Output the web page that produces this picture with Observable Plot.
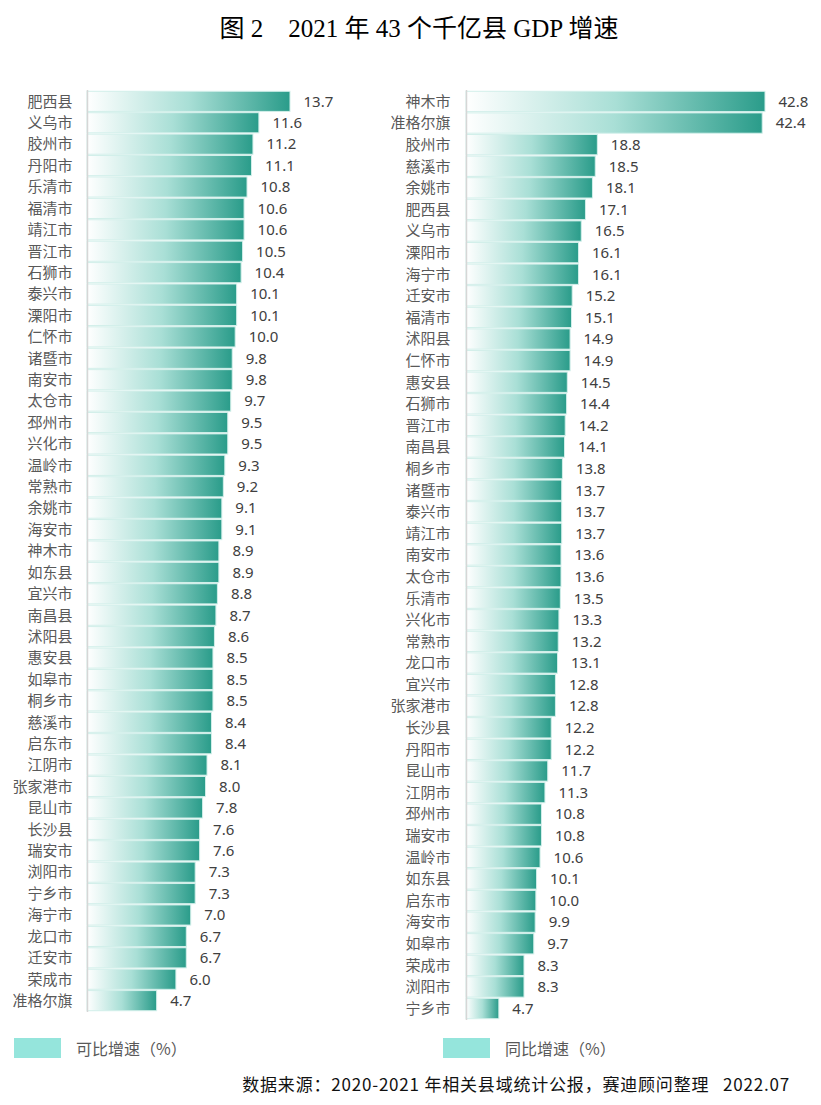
<!DOCTYPE html>
<html><head><meta charset="utf-8">
<script src="https://cdn.jsdelivr.net/npm/d3@7"></script>
<script src="https://cdn.jsdelivr.net/npm/@observablehq/plot@0.6"></script>
<style>
html,body{margin:0;padding:0;background:#fff;}
#page{position:relative;width:821px;height:1105px;overflow:hidden;font-family:"Noto Sans CJK SC","Noto Sans",sans-serif;}
#title{position:absolute;left:0;width:838px;top:8px;text-align:center;font-family:"Liberation Serif","Noto Sans CJK SC",serif;font-size:25px;color:#000;white-space:pre;}
.chart{position:absolute;top:60px;line-height:0;}
.legend{position:absolute;top:1036px;display:flex;align-items:center;font-size:16px;color:#595959;}
.sw{width:47px;height:20px;background:#95e5dc;margin-right:15px;}
#source{position:absolute;right:31px;top:1071px;font-size:17px;color:#111;white-space:pre;letter-spacing:0.8px;}
</style></head>
<body><div id="page">
<div id="title">图 2    2021 年 43 个千亿县 GDP 增速</div>
<div id="left" class="chart" style="left:0px"></div>
<div id="right" class="chart" style="left:380px"></div>
<div class="legend" style="left:14px"><div class="sw"></div>可比增速（%）</div>
<div class="legend" style="left:443px"><div class="sw"></div>同比增速（%）</div>
<div id="source">数据来源：2020-2021 年相关县域统计公报，赛迪顾问整理   2022.07</div>
</div>
<script>
const leftNames = ["肥西县","义乌市","胶州市","丹阳市","乐清市","福清市","靖江市","晋江市","石狮市","泰兴市","溧阳市","仁怀市","诸暨市","南安市","太仓市","邳州市","兴化市","温岭市","常熟市","余姚市","海安市","神木市","如东县","宜兴市","南昌县","沭阳县","惠安县","如皋市","桐乡市","慈溪市","启东市","江阴市","张家港市","昆山市","长沙县","瑞安市","浏阳市","宁乡市","海宁市","龙口市","迁安市","荣成市","准格尔旗"];
const leftValues = [13.7,11.6,11.2,11.1,10.8,10.6,10.6,10.5,10.4,10.1,10.1,10.0,9.8,9.8,9.7,9.5,9.5,9.3,9.2,9.1,9.1,8.9,8.9,8.8,8.7,8.6,8.5,8.5,8.5,8.4,8.4,8.1,8.0,7.8,7.6,7.6,7.3,7.3,7.0,6.7,6.7,6.0,4.7];
const rightNames = ["神木市","准格尔旗","胶州市","慈溪市","余姚市","肥西县","义乌市","溧阳市","海宁市","迁安市","福清市","沭阳县","仁怀市","惠安县","石狮市","晋江市","南昌县","桐乡市","诸暨市","泰兴市","靖江市","南安市","太仓市","乐清市","兴化市","常熟市","龙口市","宜兴市","张家港市","长沙县","丹阳市","昆山市","江阴市","邳州市","瑞安市","温岭市","如东县","启东市","海安市","如皋市","荣成市","浏阳市","宁乡市"];
const rightValues = [42.8,42.4,18.8,18.5,18.1,17.1,16.5,16.1,16.1,15.2,15.1,14.9,14.9,14.5,14.4,14.2,14.1,13.8,13.7,13.7,13.7,13.6,13.6,13.5,13.3,13.2,13.1,12.8,12.8,12.2,12.2,11.7,11.3,10.8,10.8,10.6,10.1,10.0,9.9,9.7,8.3,8.3,4.7];

function panel(names, values, opts) {
  const data = names.map((n, i) => ({name: n, value: values[i]}));
  const gid = opts.gid;
  const chart = Plot.plot({
    width: opts.width, height: opts.height,
    marginLeft: opts.marginLeft, marginRight: opts.marginRight,
    marginTop: opts.marginTop, marginBottom: opts.marginBottom,
    style: {background: "transparent", fontFamily: "'Noto Sans CJK SC', sans-serif"},
    x: {domain: [0, opts.max], axis: null},
    y: {domain: names, padding: 0.06, round: false, axis: null, label: null},
    marks: [
      Plot.barX(data, {x: "value", y: "name", fill: `url(#${gid})`, stroke: "#d2efea", strokeWidth: 1}),
      Plot.ruleX([0], {stroke: "#d6d6d6", strokeWidth: 1.5}),
      Plot.axisY({tickSize: 0, tickPadding: opts.pad, fontSize: 15, label: null, color: "#595959", fill: "#595959"}),
      Plot.text(data, {x: "value", y: "name", text: d => d.value.toFixed(1), dx: 13, textAnchor: "start", fontSize: 15, fill: "#404040", fontFamily: "'Noto Sans', 'Open Sans', sans-serif"})
    ]
  });
  const svg = d3.select(chart);
  const defs = svg.insert("defs", ":first-child");
  const g = defs.append("linearGradient").attr("id", gid).attr("x1", "0").attr("x2", "1").attr("y1", "0").attr("y2", "0");
  g.append("stop").attr("offset", "0").attr("stop-color", "#ffffff");
  g.append("stop").attr("offset", "0.5").attr("stop-color", "#a9dfd6");
  g.append("stop").attr("offset", "1").attr("stop-color", "#2a9c8a");
  svg.selectAll("rect").attr("fill", `url(#${gid})`);
  return chart;
}

document.getElementById("left").appendChild(panel(leftNames, leftValues, {
  gid: "gradL", width: 380, height: 970, marginLeft: 87, marginRight: 90, marginTop: 30, marginBottom: 18, max: 13.7, pad: 15
}));
document.getElementById("right").appendChild(panel(rightNames, rightValues, {
  gid: "gradR", width: 441, height: 980, marginLeft: 86, marginRight: 56, marginTop: 30, marginBottom: 20, max: 42.8, pad: 16
}));
</script>
</body></html>
